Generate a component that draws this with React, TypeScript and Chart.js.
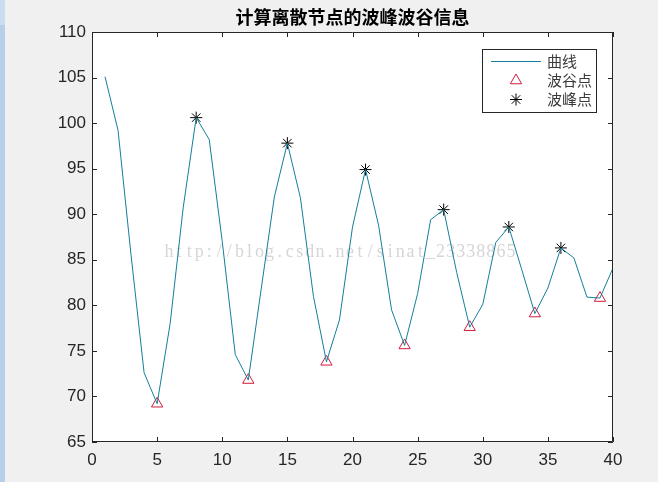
import React, { useEffect, useRef } from 'react';
import { Chart, registerables } from 'chart.js';

Chart.register(...registerables);

// ---------- data ----------
const xValues = [
  1, 2, 3, 4, 5, 6, 7, 8, 9, 10,
  11, 12, 13, 14, 15, 16, 17, 18, 19, 20,
  21, 22, 23, 24, 25, 26, 27, 28, 29, 30,
  31, 32, 33, 34, 35, 36, 37, 38, 39, 40,
];
const curveValues = [
  105.1, 99.2, 85.5, 72.6, 69.2, 78.0, 90.7, 100.6, 98.2, 87.0,
  74.6, 71.8, 81.9, 91.9, 97.8, 91.8, 81.0, 73.8, 78.4, 88.6,
  94.9, 88.8, 79.5, 75.6, 81.3, 89.4, 90.5, 83.6, 77.6, 80.1,
  86.9, 88.6, 83.9, 79.1, 81.9, 86.3, 85.2, 80.9, 80.8, 84.1,
];
const valleyX = [5, 12, 18, 24, 29, 34, 39];
const peakX = [8, 15, 21, 27, 32, 36];
const seriesLabels = ['曲线', '波谷点', '波峰点'];
const titleText = '计算离散节点的波峰波谷信息';
const watermarkText = 'http://blog.csdn.net/sinat_23338865';
const xRange = [0, 40];
const yRange = [65, 110];
const tickStep = 5;

// ---------- styles ----------
const CURVE_COLOR = '#137f9a';
const VALLEY_COLOR = '#d01c3c';
const PEAK_COLOR = '#000000';
const AXIS_COLOR = '#262626';
const TICK_FONT = '"Liberation Sans", Arial, sans-serif';
const CJK_FONT = '"Noto Sans CJK SC", sans-serif';

function drawMarker(ctx: CanvasRenderingContext2D, style: string, x: number, y: number, r: number, color: string) {
  ctx.save();
  ctx.strokeStyle = color;
  ctx.lineWidth = 1;
  ctx.beginPath();
  if (style === 'triangle') {
    let rad = 0;
    ctx.moveTo(x + Math.sin(rad) * r, y - Math.cos(rad) * r);
    rad += (2 * Math.PI) / 3;
    ctx.lineTo(x + Math.sin(rad) * r, y - Math.cos(rad) * r);
    rad += (2 * Math.PI) / 3;
    ctx.lineTo(x + Math.sin(rad) * r, y - Math.cos(rad) * r);
    ctx.closePath();
  } else if (style === 'star') {
    for (let k = 0; k < 4; k++) {
      const a = (k * Math.PI) / 4;
      ctx.moveTo(x - Math.sin(a) * r, y - Math.cos(a) * r);
      ctx.lineTo(x + Math.sin(a) * r, y + Math.cos(a) * r);
    }
  }
  ctx.stroke();
  ctx.restore();
}

const backgroundPlugin = {
  id: 'matlabBackground',
  beforeDraw(chart: any) {
    const { ctx, width, height, chartArea } = chart;
    ctx.save();
    ctx.fillStyle = '#f0f0f0';
    ctx.fillRect(0, 0, width, height);
    ctx.fillStyle = '#b7cfe9';
    ctx.fillRect(0, 0, 5, height);
    ctx.fillStyle = '#c9dcf0';
    ctx.fillRect(0, 0, 5, 25);
    ctx.fillStyle = '#ffffff';
    ctx.fillRect(chartArea.left, chartArea.top, chartArea.right - chartArea.left, chartArea.bottom - chartArea.top);
    ctx.restore();
  },
};

const watermarkPlugin = {
  id: 'watermark',
  beforeDatasetsDraw(chart: any) {
    const { ctx } = chart;
    ctx.save();
    ctx.font = '18px "Liberation Serif", serif';
    ctx.fillStyle = '#d6d6d6';
    ctx.textBaseline = 'middle';
    ctx.textAlign = 'center';
    const startX = 164;
    const cell = 352 / watermarkText.length;
    for (let i = 0; i < watermarkText.length; i++) {
      ctx.fillText(watermarkText[i], startX + cell * (i + 0.5), 252);
    }
    ctx.restore();
  },
};

const framePlugin = {
  id: 'frameTicks',
  afterDatasetsDraw(chart: any) {
    const { ctx, chartArea, scales } = chart;
    const { left, right, top, bottom } = chartArea;
    const tl = 5;
    ctx.save();
    ctx.strokeStyle = AXIS_COLOR;
    ctx.lineWidth = 1;
    ctx.beginPath();
    ctx.rect(Math.round(left) + 0.5, Math.round(top) + 0.5, Math.round(right - left) - 1, Math.round(bottom - top) - 1);
    for (const t of scales.x.ticks) {
      const px = Math.round(scales.x.getPixelForValue(t.value)) + 0.5;
      ctx.moveTo(px, bottom);
      ctx.lineTo(px, bottom - tl);
      ctx.moveTo(px, top);
      ctx.lineTo(px, top + tl);
    }
    for (const t of scales.y.ticks) {
      const py = Math.round(scales.y.getPixelForValue(t.value)) + 0.5;
      ctx.moveTo(left, py);
      ctx.lineTo(left + tl, py);
      ctx.moveTo(right, py);
      ctx.lineTo(right - tl, py);
    }
    ctx.stroke();
    ctx.restore();
  },
};

const legendPlugin = {
  id: 'matlabLegend',
  afterDraw(chart: any) {
    const { ctx } = chart;
    const bx = 482, by = 49, bw = 114, bh = 63;
    ctx.save();
    ctx.fillStyle = '#ffffff';
    ctx.fillRect(bx, by, bw, bh);
    ctx.strokeStyle = '#262626';
    ctx.lineWidth = 1;
    ctx.strokeRect(bx + 0.5, by + 0.5, bw, bh);
    const rows = [61, 80.5, 99.5];
    chart.data.datasets.forEach((ds: any, i: number) => {
      const y = rows[i];
      if (ds.showLine !== false) {
        ctx.strokeStyle = ds.borderColor;
        ctx.lineWidth = ds.borderWidth;
        ctx.beginPath();
        ctx.moveTo(491, Math.round(y) + 0.5);
        ctx.lineTo(541, Math.round(y) + 0.5);
        ctx.stroke();
      } else {
        drawMarker(ctx, ds.pointStyle, 516, y, ds.pointRadius, ds.borderColor);
      }
      ctx.fillStyle = '#3a3a3a';
      ctx.font = `15px ${CJK_FONT}`;
      ctx.textBaseline = 'middle';
      ctx.textAlign = 'left';
      ctx.fillText(ds.label, 547, y);
    });
    ctx.restore();
  },
};

export default function App() {
  const canvasRef = useRef<HTMLCanvasElement | null>(null);

  useEffect(() => {
    document.body.style.margin = '0';
    const canvas = canvasRef.current;
    if (!canvas) return;

    const curve = xValues.map((x, i) => ({ x, y: curveValues[i] }));
    const valleys = valleyX.map((x) => ({ x, y: curveValues[xValues.indexOf(x)] }));
    const peaks = peakX.map((x) => ({ x, y: curveValues[xValues.indexOf(x)] }));

    const chart = new Chart(canvas, {
      type: 'line',
      data: {
        datasets: [
          {
            label: seriesLabels[0],
            data: curve,
            borderColor: CURVE_COLOR,
            borderWidth: 1,
            pointRadius: 0,
            tension: 0,
            fill: false,
          },
          {
            label: seriesLabels[1],
            data: valleys,
            showLine: false,
            pointStyle: 'triangle',
            pointRadius: 6.5,
            borderColor: VALLEY_COLOR,
            backgroundColor: 'rgba(0,0,0,0)',
            pointBorderWidth: 1,
          },
          {
            label: seriesLabels[2],
            data: peaks,
            showLine: false,
            pointStyle: 'star',
            pointRadius: 6,
            borderColor: PEAK_COLOR,
            backgroundColor: 'rgba(0,0,0,0)',
            pointBorderWidth: 1,
          },
        ] as any,
      },
      options: {
        responsive: false,
        animation: false,
        devicePixelRatio: 1,
        layout: { padding: { left: 0, right: 45, top: 0, bottom: 0 } },
        plugins: {
          legend: { display: false },
          tooltip: { enabled: false },
          title: {
            display: true,
            text: titleText,
            fullSize: false,
            color: '#000000',
            font: { family: CJK_FONT, size: 18, weight: 'bold' },
            padding: { top: 6, bottom: 4.4 },
          },
        },
        scales: {
          x: {
            type: 'linear',
            min: xRange[0],
            max: xRange[1],
            grid: { display: false, drawTicks: false },
            border: { display: false },
            ticks: {
              stepSize: tickStep,
              color: AXIS_COLOR,
              font: { family: TICK_FONT, size: 17 },
              padding: 8,
              maxRotation: 0,
            },
            afterFit: (s: any) => { s.height = 40; },
          },
          y: {
            type: 'linear',
            min: yRange[0],
            max: yRange[1],
            grid: { display: false, drawTicks: false },
            border: { display: false },
            ticks: {
              stepSize: tickStep,
              color: AXIS_COLOR,
              font: { family: TICK_FONT, size: 17 },
              padding: 6,
            },
            afterFit: (s: any) => { s.width = 92; },
          },
        },
      } as any,
      plugins: [backgroundPlugin, watermarkPlugin, framePlugin, legendPlugin],
    });

    return () => chart.destroy();
  }, []);

  return (
    <div style={{ width: 658, height: 482 }}>
      <canvas ref={canvasRef} width={658} height={482} style={{ display: 'block', width: 658, height: 482 }} />
    </div>
  );
}
